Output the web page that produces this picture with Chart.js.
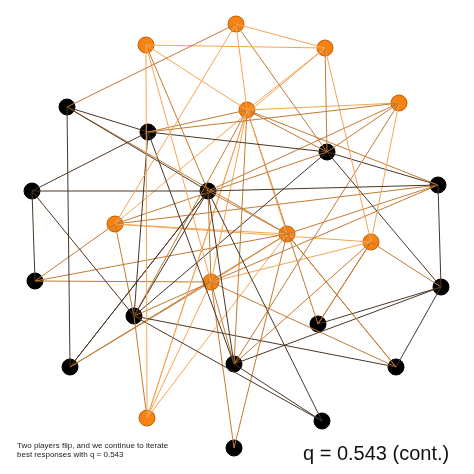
<!DOCTYPE html>
<html>
<head>
<meta charset="utf-8">
<script src="https://cdn.jsdelivr.net/npm/chart.js@4.4.0/dist/chart.umd.min.js"></script>
<style>
html,body{margin:0;padding:0;background:#fff;}
#wrap{width:474px;height:474px;}
</style>
</head>
<body>
<div id="wrap"><canvas id="graph"></canvas></div>
<script>
// nodes: x, y, and strategy (1 = orange, 0 = black)
var nodeX = [236,146,325,399,247,115,287,371,211,147, 67,148,327,438,32,208,35,441,134,318,70,234,396,322,234];
var nodeY = [24,45,48,103,110,224,234,242,282,418, 107,132,152,185,191,191,281,287,316,324,367,364,367,421,448];
var nodeState = [1,1,1,1,1,1,1,1,1,1, 0,0,0,0,0,0,0,0,0,0,0,0,0,0,0];

// edges (pairs of node indexes)
var edgeFrom = [0,1,0,0,0,0,1,1,1,1, 10,10,10,10,11,11,11,11,11,11, 14,14,14,15,15,15,15,15,15,15,
                2,2,2,2,3,3,3,3,3,4,4,4,4,4,4,4,4, 12,12,12,13,13,13,13, 7,7,7,6,
                17,17,17,18,21,21,22,22,22,9,9,9,9, 20,20,20,16,16,16, 5,5,5,5,8,8,8,24,24,19];
var edgeTo   = [10,2,2,12,4,5,9,8,4,15, 11,20,15,6,3,4,12,14,18,21, 15,16,18,18,21,8,6,20,23,13,
                12,7,5,4,4,12,15,21,7,12,13,6,8,18,21,9,19, 13,17,18,17,6,8,5, 17,19,21,22,
                22,19,21,23,23,8,18,6,8,18,8,6,4, 8,15,6,5,8,6, 6,7,12,18,6,7,18,6,8,7];

var canvas = document.getElementById("graph");
var datasets = [];

for (var i = 0; i < edgeFrom.length; i++) {
	var a = edgeFrom[i], b = edgeTo[i];
	var s = nodeState[a] + nodeState[b];
	var col = s == 2 ? "#f6a352" : (s == 1 ? "#c27a32" : "#4a3624");
	datasets.push({
		data : [ {x: nodeX[a], y: nodeY[a]}, {x: nodeX[b], y: nodeY[b]} ],
		showLine : true,
		borderColor : col,
		borderWidth : 1,
		pointRadius : 0
	});
}

var pts = [], fill = [], edge = [];
for (var j = 0; j < nodeX.length; j++) {
	pts.push({x: nodeX[j], y: nodeY[j]});
	fill.push(nodeState[j] ? "#f68212" : "#000000");
	edge.push(nodeState[j] ? "#c0610a" : "#000000");
}
datasets.push({
	data : pts,
	pointRadius : 8,
	pointBackgroundColor : fill,
	pointBorderColor : edge,
	pointBorderWidth : 1,
	showLine : false
});

// captions
var captions = {
	id : "captions",
	afterDraw : function(chart) {
		var ctx = chart.ctx;
		ctx.save();
		ctx.fillStyle = "#222";
		ctx.font = "8px 'Liberation Sans', Arial, sans-serif";
		ctx.textBaseline = "alphabetic";
		ctx.fillText("Two players flip, and we continue to iterate", 17, 448);
		ctx.fillText("best responses with q = 0.543", 17, 457);
		ctx.font = "20px 'Liberation Sans', Arial, sans-serif";
		ctx.fillStyle = "#111";
		ctx.fillText("q = 0.543 (cont.)", 303, 460);
		ctx.restore();
	}
};

new Chart(canvas, {
	type : 'scatter',
	data : { datasets : datasets },
	options : {
		responsive : true,
		maintainAspectRatio : false,
		animation : false,
		layout : { padding : 0, autoPadding : false },
		plugins : { legend : { display : false }, tooltip : { enabled : false } },
		scales : {
			x : { display : false, min : 0, max : 474 },
			y : { display : false, min : 0, max : 474, reverse : true }
		}
	},
	plugins : [ captions ]
});
</script>
</body>
</html>
